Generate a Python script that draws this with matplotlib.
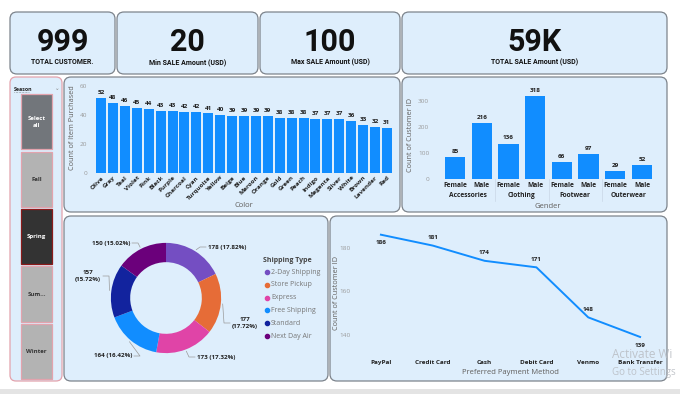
import numpy as np
import matplotlib
matplotlib.use('Agg')
import matplotlib.pyplot as plt
from matplotlib.patches import FancyBboxPatch, Rectangle
from matplotlib import font_manager

# data
card_values = ['999', '20', '100', '59K']
card_titles = ['TOTAL CUSTOMER.', 'Min SALE Amount (USD)', 'Max SALE Amount (USD)', 'TOTAL SALE Amount (USD)']

seasons = ['Select\nall', 'Fall', 'Spring', 'Sum...', 'Winter']

color_names = ['Olive', 'Gray', 'Teal', 'Violet', 'Pink', 'Black', 'Purple', 'Charcoal', 'Cyan',
               'Turquoise', 'Yellow', 'Beige', 'Blue', 'Maroon', 'Orange', 'Gold', 'Green', 'Peach',
               'Indigo', 'Magenta', 'Silver', 'White', 'Brown', 'Lavender', 'Red']
color_counts = [52, 48, 46, 45, 44, 43, 43, 42, 42, 41, 40, 39, 39, 39, 39, 38, 38, 38, 37, 37, 37, 36, 33, 32, 31]

categories = ['Accessories', 'Clothing', 'Footwear', 'Outerwear']
genders = ['Female', 'Male']
gender_counts = [85, 216, 136, 318, 66, 97, 29, 52]

ship_types = ['2-Day Shipping', 'Store Pickup', 'Express', 'Free Shipping', 'Standard', 'Next Day Air']
ship_counts = [178, 177, 173, 164, 157, 150]

pay_methods = ['PayPal', 'Credit Card', 'Cash', 'Debit Card', 'Venmo', 'Bank Transfer']
pay_counts = [186, 181, 174, 171, 148, 139]

names = {f.name for f in font_manager.fontManager.ttflist}
narrow = 'Liberation Sans Narrow' if 'Liberation Sans Narrow' in names else 'Roboto'
plt.rcParams['font.family'] = ['Open Sans', 'DejaVu Sans']

W, H = 680, 394
fig = plt.figure(figsize=(6.8, 3.94), dpi=100)
fig.patch.set_facecolor('white')
bg = fig.add_axes([0, 0, 1, 1])
bg.set_xlim(0, W)
bg.set_ylim(H, 0)
bg.axis('off')

BLUE = '#118dff'
PANEL = '#deeefc'
EDGE = '#7d848c'
GRAYTXT = '#605e5c'


def fr(x0, y0, x1, y1):
    return [x0 / W, 1 - y1 / H, (x1 - x0) / W, (y1 - y0) / H]


def panel(x0, y0, x1, y1, fc=PANEL, ec=EDGE, r=7):
    bg.add_patch(FancyBboxPatch((x0, y0), x1 - x0, y1 - y0,
                                boxstyle='round,pad=0,rounding_size=%d' % r,
                                fc=fc, ec=ec, lw=0.9))


# cards
cards = [(10, 115), (117, 258), (260, 400), (402, 667)]
for (x0, x1), v, t in zip(cards, card_values, card_titles):
    panel(x0, 12, x1, 74)
    cx = (x0 + x1) / 2
    bg.text(cx, 42, v, ha='center', va='center', fontsize=22, fontweight='bold', family=narrow, color='#111111')
    bg.text(cx, 62, t, ha='center', va='center', fontsize=5, fontweight='bold', family=narrow, color='#111111')

# bottom strip
bg.add_patch(Rectangle((0, 389), W, 5, fc='#e4e4e4', ec='none'))

# slicer
panel(10, 77, 62, 381, fc=PANEL, ec='#e3a3ad', r=6)
bg.text(14, 89, 'Season', fontsize=3.8, fontweight='bold', va='center', color='#222222')
bg.plot([14, 29], [91.5, 91.5], color='#444444', lw=0.4, ls=':')
bg.text(57, 88, '⌄', fontsize=4, va='center', ha='center', color='#888888')
btn_y = [(94, 149), (152, 207), (209, 264), (266, 322), (324, 379)]
btn_fc = ['#72767b', '#b3b3b3', '#333333', '#b3b3b3', '#b3b3b3']
btn_ec = ['#e3a3ad', '#e3a3ad', '#8b1a1a', '#e3a3ad', '#e3a3ad']
btn_tc = ['white', '#333333', 'white', '#333333', '#333333']
for (y0, y1), s, fc, ec, tc in zip(btn_y, seasons, btn_fc, btn_ec, btn_tc):
    bg.add_patch(Rectangle((21, y0), 31, y1 - y0, fc=fc, ec=ec, lw=0.9))
    bg.text(36.5, (y0 + y1) / 2, s, ha='center', va='center', fontsize=4.3,
            fontweight='bold', color=tc, linespacing=1.5)

# panels
panel(64, 77, 400, 212)
panel(402, 77, 667, 212)
panel(64, 216, 328, 381)
panel(330, 216, 667, 381)

# color bar chart
ax1 = fig.add_axes(fr(94, 83, 394, 173))
ax1.set_facecolor('none')
x = np.arange(len(color_names))
ax1.bar(x, color_counts, width=0.84, color=BLUE)
for i, v in zip(x, color_counts):
    ax1.text(i, v + 2, str(v), ha='center', va='bottom', fontsize=4.6, fontweight='bold', color='#222222')
ax1.set_xlim(-0.6, len(color_names) - 0.4)
ax1.set_ylim(0, 62)
ax1.set_yticks([0, 20, 40, 60])
ax1.set_xticks(x)
ax1.set_xticklabels(color_names, rotation=45, ha='right', rotation_mode='anchor',
                    fontsize=4.6, fontweight='bold', color='#222222')
ax1.tick_params(axis='y', labelsize=4.6, labelcolor='#9a9a9a', length=0, pad=5)
ax1.tick_params(axis='x', length=0, pad=1.5)
for s in ax1.spines.values():
    s.set_visible(False)
bg.text(72, 128, 'Count of Item Purchased', rotation=90, ha='center', va='center', fontsize=5.2, color=GRAYTXT)
bg.text(244, 205, 'Color', ha='center', va='center', fontsize=5.5, color=GRAYTXT)

# gender bar chart
ax2 = fig.add_axes(fr(439, 93, 658, 179))
ax2.set_facecolor('none')
xg = np.arange(len(gender_counts))
ax2.bar(xg, gender_counts, width=0.76, color=BLUE)
for i, v in zip(xg, gender_counts):
    ax2.text(i, v + 12, str(v), ha='center', va='bottom', fontsize=4.6, fontweight='bold', color='#222222')
ax2.set_xlim(-0.6, len(gender_counts) - 0.4)
ax2.set_ylim(0, 330)
ax2.set_yticks([0, 100, 200, 300])
ax2.set_xticks(xg)
ax2.set_xticklabels(genders * len(categories), fontsize=4.8, fontweight='bold', color='#222222')
ax2.tick_params(axis='y', labelsize=4.6, labelcolor='#9a9a9a', length=0, pad=7)
ax2.tick_params(axis='x', length=0, pad=2)
for s in ax2.spines.values():
    s.set_visible(False)
tr = ax2.get_xaxis_transform()
for k, c in enumerate(categories):
    ax2.text(2 * k + 0.5, -0.19, c, transform=tr, ha='center', va='center', fontsize=4.8,
             fontweight='bold', color='#222222', clip_on=False)
for k in range(1, len(categories)):
    ax2.plot([2 * k - 0.5] * 2, [0, -0.26], transform=tr, color='#c9d7e6', lw=0.5, clip_on=False)
bg.text(411, 135, 'Count of Customer ID', rotation=90, ha='center', va='center', fontsize=5.2, color=GRAYTXT)
bg.text(548, 206, 'Gender', ha='center', va='center', fontsize=5.5, color=GRAYTXT)

# donut
ship_colors = ['#744ec2', '#e66c37', '#e044a7', '#118dff', '#12239e', '#6b007b']
cx, cy, R = 166, 298, 55
ax4 = fig.add_axes(fr(cx - 70, cy - 70, cx + 70, cy + 70))
ax4.pie(ship_counts, radius=1, startangle=90, counterclock=False, colors=ship_colors,
        wedgeprops=dict(width=0.35, edgecolor='none'))
ax4.set_xlim(-1.27, 1.27)
ax4.set_ylim(-1.27, 1.27)
ax4.set_aspect('equal')
ax4.axis('off')

total = sum(ship_counts)
cum = np.cumsum([0] + ship_counts)
# label anchor (px), alignment
lab_pos = [(208, 247, 'left'), (232, 323, 'left'), (197, 357, 'left'),
           (132, 356, 'right'), (101, 276, 'right'), (130, 243, 'right')]
for k, v in enumerate(ship_counts):
    mid = np.deg2rad(90 - 360 * (cum[k] + v / 2) / total)
    rx = cx + (R + 2) * np.cos(mid)
    ry = cy - (R + 2) * np.sin(mid)
    lx, ly, ha = lab_pos[k]
    pct = 100 * v / total
    if k in (1, 4):
        txt = '%d\n(%.2f%%)' % (v, pct)
    else:
        txt = '%d (%.2f%%)' % (v, pct)
    bg.text(lx, ly, txt, ha=ha, va='center', fontsize=4.5, fontweight='bold',
            color='#222222', multialignment='center', linespacing=1.4)
    ex = lx - 2 if ha == 'left' else lx + 2
    ex2 = ex - 6 if ha == 'left' else ex + 6
    bg.plot([ex, ex2, rx], [ly, ly, ry], color='#9a9a9a', lw=0.5)

bg.text(263, 261, 'Shipping Type', fontsize=5, fontweight='bold', va='center', color='#444444')
for k, (s, c) in enumerate(zip(ship_types, ship_colors)):
    yy = 272 + k * 12.8
    bg.plot(267, yy, 'o', ms=3, color=c)
    bg.text(271, yy, s, fontsize=5, va='center', color='#777777')

# line chart
ax3 = fig.add_axes(fr(355, 226, 666, 350))
ax3.set_facecolor('none')
xp = np.arange(len(pay_methods))
ax3.plot(xp, pay_counts, color=BLUE, lw=1.4)
label_side = [-1, 1, 1, 1, 1, -1]
for i, v, sd in zip(xp, pay_counts, label_side):
    ax3.annotate(str(v), (i, v), xytext=(0, 4 * sd), textcoords='offset points',
                 ha='center', va='bottom' if sd > 0 else 'top', fontsize=4.6,
                 fontweight='bold', color='#222222')
ax3.set_xlim(-0.5, len(pay_methods) - 0.5)
ax3.set_ylim(133, 190)
ax3.set_yticks([140, 160, 180])
ax3.set_xticks(xp)
ax3.set_xticklabels(pay_methods, fontsize=4.6, fontweight='bold', color='#222222')
ax3.tick_params(axis='y', labelsize=4.6, labelcolor='#9a9a9a', length=0, pad=3)
ax3.tick_params(axis='x', length=0, pad=7)
for s in ax3.spines.values():
    s.set_visible(False)
bg.text(336, 293, 'Count of Customer ID', rotation=90, ha='center', va='center', fontsize=5.2, color=GRAYTXT)
bg.text(510, 372, 'Preferred Payment Method', ha='center', va='center', fontsize=5.5, color=GRAYTXT)

# watermark (cut at the screenshot edge), sits over the panel like the screenshot
bg.text(612, 355, 'Activate Wi', fontsize=8.5, va='center', color='#b8bcc2', alpha=0.85)
bg.text(612, 373, 'Go to Settings', fontsize=7, va='center', color='#b8bcc2', alpha=0.85)

fig.savefig('out.png', dpi=100, facecolor='white')
